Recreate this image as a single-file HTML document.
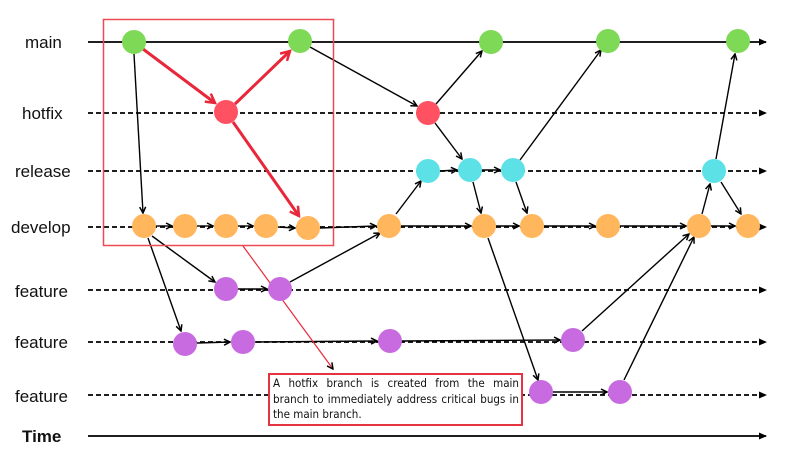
<!DOCTYPE html>
<html><head><meta charset="utf-8"><style>
html,body{margin:0;padding:0;background:#fff;width:800px;height:460px;overflow:hidden}
svg{display:block}
.lbl{font-family:"Liberation Sans",sans-serif;font-size:17px;fill:#111}
.note{position:absolute;left:268px;top:373px;width:246px;height:46px;border:2px solid #e53340;background:#fff;padding:1px 2px 2px 3px;font-family:"DejaVu Sans Condensed","DejaVu Sans",sans-serif;font-size:11.5px;line-height:15.5px;text-align:justify;color:#111;text-align-last:left}
</style></head><body>
<svg width="800" height="460" viewBox="0 0 800 460" style="position:absolute;left:0;top:0">
<defs>
<marker id="a" markerWidth="8" markerHeight="8" refX="7" refY="4" orient="auto" markerUnits="userSpaceOnUse"><path d="M1,1 L7,4 L1,7" fill="none" stroke="#000" stroke-width="1.5"/></marker>
<marker id="r" markerWidth="12" markerHeight="12" refX="10" refY="6" orient="auto" markerUnits="userSpaceOnUse"><path d="M1,1 L10,6 L1,11" fill="none" stroke="#e8283a" stroke-width="2.5"/></marker>
<marker id="e" markerWidth="8" markerHeight="8" refX="7" refY="4" orient="auto" markerUnits="userSpaceOnUse"><path d="M0,0.5 L8,4 L0,7.5Z" fill="#000"/></marker>
</defs>
<g class="lbl">
<text x="25" y="48">main</text>
<text x="22" y="119">hotfix</text>
<text x="15" y="177">release</text>
<text x="11" y="233">develop</text>
<text x="15" y="297">feature</text>
<text x="15" y="348">feature</text>
<text x="15" y="402">feature</text>
<text x="22" y="442" style="font-weight:bold">Time</text>
</g>
<g stroke="#000" stroke-width="1.8" fill="none">
<line x1="88" y1="42" x2="766" y2="42" marker-end="url(#e)"/>
<line x1="88" y1="436" x2="766" y2="436" marker-end="url(#e)"/>
<g stroke-dasharray="5,3">
<line x1="88" y1="113" x2="766" y2="113" marker-end="url(#e)"/>
<line x1="88" y1="171" x2="766" y2="171" marker-end="url(#e)"/>
<line x1="88" y1="227" x2="766" y2="227" marker-end="url(#e)"/>
<line x1="88" y1="290" x2="766" y2="290" marker-end="url(#e)"/>
<line x1="88" y1="342" x2="766" y2="342" marker-end="url(#e)"/>
<line x1="88" y1="395" x2="766" y2="395" marker-end="url(#e)"/>
</g>
</g>
<g stroke="#000" stroke-width="1.4" fill="none" marker-end="url(#a)">
<line x1="134" y1="54" x2="143" y2="213"/>
<line x1="156" y1="226" x2="172" y2="226"/>
<line x1="197" y1="226" x2="213" y2="226"/>
<line x1="238" y1="226" x2="253" y2="226"/>
<line x1="278" y1="227" x2="295" y2="228"/>
<line x1="320" y1="228" x2="376" y2="226"/>
<line x1="310" y1="47" x2="417" y2="106"/>
<line x1="436" y1="104" x2="482" y2="51"/>
<line x1="435" y1="123" x2="462" y2="159"/>
<line x1="396" y1="214" x2="421" y2="181"/>
<line x1="440" y1="171" x2="457" y2="170"/>
<line x1="482" y1="170" x2="500" y2="170"/>
<line x1="473" y1="182" x2="481" y2="213"/>
<line x1="516" y1="182" x2="527" y2="213"/>
<line x1="520" y1="160" x2="601" y2="50"/>
<line x1="401" y1="226" x2="471" y2="226"/>
<line x1="496" y1="226" x2="519" y2="226"/>
<line x1="544" y1="226" x2="595" y2="226"/>
<line x1="620" y1="226" x2="686" y2="226"/>
<line x1="711" y1="226" x2="735" y2="226"/>
<line x1="702" y1="214" x2="710" y2="184"/>
<line x1="716" y1="159" x2="735" y2="54"/>
<line x1="721" y1="182" x2="741" y2="214"/>
<line x1="152" y1="236" x2="215" y2="282"/>
<line x1="148" y1="238" x2="181" y2="331"/>
<line x1="238" y1="289" x2="267" y2="289"/>
<line x1="290" y1="282" x2="380" y2="233"/>
<line x1="197" y1="343" x2="230" y2="342"/>
<line x1="255" y1="342" x2="377" y2="341"/>
<line x1="402" y1="341" x2="560" y2="340"/>
<line x1="582" y1="331" x2="689" y2="234"/>
<line x1="488" y1="238" x2="538" y2="380"/>
<line x1="553" y1="392" x2="607" y2="392"/>
<line x1="624" y1="380" x2="694" y2="237"/>
</g>
<g stroke="#e8283a" stroke-width="3" fill="none" marker-end="url(#r)">
<line x1="143" y1="49" x2="215" y2="103"/>
<line x1="235" y1="104" x2="290" y2="51"/>
<line x1="233" y1="122" x2="299" y2="216"/>
</g>
<rect x="103.5" y="19.5" width="230" height="226" fill="none" stroke="#ee4a55" stroke-width="1.5"/>
<line x1="243" y1="246" x2="333" y2="369" stroke="#e8283a" stroke-width="1.2" marker-end="url(#a)"/>
<g fill="#7ed957">
<circle cx="134" cy="42" r="12"/><circle cx="300" cy="41" r="12"/><circle cx="491" cy="42" r="12"/><circle cx="608" cy="41" r="12"/><circle cx="738" cy="41" r="12"/>
</g>
<g fill="#ff5161"><circle cx="226" cy="112" r="12"/><circle cx="428" cy="113" r="12"/></g>
<g fill="#5ce1e6"><circle cx="428" cy="171" r="12"/><circle cx="470" cy="170" r="12"/><circle cx="513" cy="170" r="12"/><circle cx="714" cy="171" r="12"/></g>
<g fill="#ffb65c">
<circle cx="144" cy="226" r="12"/><circle cx="185" cy="226" r="12"/><circle cx="226" cy="226" r="12"/><circle cx="266" cy="226" r="12"/><circle cx="308" cy="228" r="12"/><circle cx="389" cy="226" r="12"/><circle cx="484" cy="226" r="12"/><circle cx="532" cy="226" r="12"/><circle cx="608" cy="226" r="12"/><circle cx="699" cy="226" r="12"/><circle cx="748" cy="226" r="12"/>
</g>
<g fill="#c86be0">
<circle cx="226" cy="289" r="12"/><circle cx="280" cy="289" r="12"/>
<circle cx="185" cy="344" r="12"/><circle cx="243" cy="342" r="12"/><circle cx="390" cy="341" r="12"/><circle cx="573" cy="340" r="12"/>
<circle cx="541" cy="392" r="12"/><circle cx="620" cy="392" r="12"/>
</g>
</svg>
<div class="note">A hotfix branch is created from the main branch to immediately address critical bugs in the main branch.</div>
</body></html>
